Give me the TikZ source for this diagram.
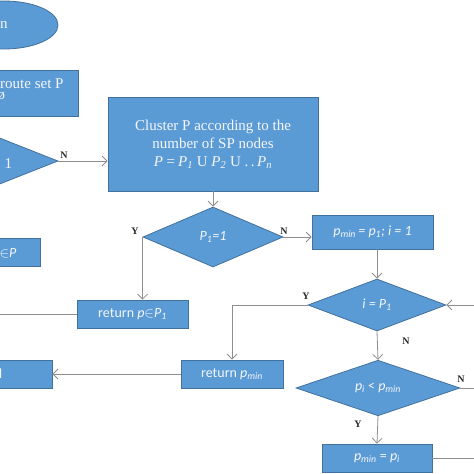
\documentclass[tikz,border=0pt]{standalone}
\usepackage{fontspec}
\setmainfont{Liberation Serif}
\newfontfamily\sansf{Carlito}
\usetikzlibrary{shapes.geometric,arrows.meta}
\definecolor{boxfill}{HTML}{5B9BD5}
\definecolor{boxline}{HTML}{41719C}
\definecolor{lncol}{HTML}{8E8E8E}
\definecolor{txt}{HTML}{F4F6FA}
\tikzset{
 blk/.style={draw=boxline, fill=boxfill, line width=0.8pt, inner sep=0pt, text=txt},
 rbox/.style={blk, rectangle},
 dia/.style={blk, diamond},
 ell/.style={blk, ellipse},
 serift/.style={font=\fontsize{15}{18}\selectfont, text=txt, inner sep=0pt},
 sanst/.style={font=\sansf\fontsize{14}{17}\selectfont, text=txt, inner sep=0pt},
 lbl/.style={font=\bfseries\fontsize{10}{12}\selectfont, text=black!85, inner sep=0pt},
 ln/.style={draw=lncol, line width=0.8pt},
 arr/.style={ln, -{Straight Barb[length=5pt,width=10pt]}},
}
\begin{document}
\begin{tikzpicture}[x=1pt,y=-1pt]
\useasboundingbox (0,0) rectangle (474,474);
% left partial column
\node[ell, serift, minimum width=108pt, minimum height=48pt] (start) at (4,25) {n};
\node[rbox, minimum width=98pt, minimum height=46pt] (init) at (29,93) {};
\node[serift, anchor=base west] (initt) at (0,88) {route set P};
\node[serift, anchor=base] (inite) at (1.5,99.5) {ø};
\node[dia, minimum width=116pt, minimum height=46pt] (d0) at (0,161) {};
\node[serift] (d0t) at (8.5,163.5) {1};
\node[rbox, minimum width=60pt, minimum height=28pt] (lb) at (10,252) {};
\node[sanst] (lbt) at (8,253) {$\in$\textit{P}};
\node[rbox, minimum width=72pt, minimum height=28pt] (eb) at (16,374) {};
\node[sanst, anchor=east] (ebt) at (2.5,374) {d};
% main flow
\node[rbox, serift, align=center, minimum width=210pt, minimum height=94pt] (cl) at (213,144)
 {Cluster P according to the\\ number of SP nodes\\ \textit{P\,=\,P\textsubscript{1}} U \textit{P\textsubscript{2}} U .\,.\,\textit{P\textsubscript{n}}};
\node[dia, sanst, minimum width=140pt, minimum height=60pt] (d1) at (213,237) {\textit{P\textsubscript{1}=1}};
\node[rbox, sanst, minimum width=121pt, minimum height=34pt] (b1) at (372.5,232) {\textit{p\textsubscript{min}\,= p\textsubscript{1}; i = 1}};
\node[dia, sanst, minimum width=138pt, minimum height=52pt] (d2) at (377,305) {\textit{i = P\textsubscript{1}}};
\node[dia, sanst, minimum width=164pt, minimum height=55pt] (d3) at (378,388) {\textit{p\textsubscript{i}} < \textit{p\textsubscript{min}}};
\node[rbox, sanst, minimum width=110pt, minimum height=28pt] (b2) at (377,458) {\textit{p\textsubscript{min}} = \textit{p\textsubscript{i}}};
\node[rbox, sanst, minimum width=111pt, minimum height=28pt] (r1) at (132.5,314) {return \textit{p}$\in$\textit{P\textsubscript{1}}};
\node[rbox, sanst, minimum width=102pt, minimum height=28pt] (r2) at (232,374) {return \textit{p\textsubscript{min}}};
% off-page coordinates
\coordinate (offl1) at (-5,314);
\coordinate (offr1) at (480,305);
\coordinate (offr2) at (480,388);
\coordinate (offr3) at (480,458);
% connectors
\draw[arr] (d0.east) -- (d0.east -| cl.west);
\draw[arr] (cl.south) -- (d1.north);
\draw[arr] (d1.east) -- (d1.east -| b1.west);
\draw[arr] (d1.west) -- (d1.west |- r1.north);
\draw[ln] (r1.west) -- (offl1);
\draw[arr] (d2.north |- b1.south) -- (d2.north);
\draw[arr] (d2.west) -| (r2.north);
\draw[arr] (offr1) -- (d2.east);
\draw[arr] (d2.south) -- (d3.north);
\draw[ln] (d3.east) -- (offr2);
\draw[arr] (d3.south) -- (b2.north);
\draw[ln] (b2.east) -- (offr3);
\draw[arr] (r2.west) -- (eb.east);
% labels
\node[lbl] (l1) at (64,155) {N};
\node[lbl] (l2) at (135,231) {Y};
\node[lbl] (l3) at (284,231) {N};
\node[lbl] (l4) at (306,296) {Y};
\node[lbl] (l5) at (406,341) {N};
\node[lbl] (l6) at (461,379) {N};
\node[lbl] (l7) at (358,424) {Y};
\end{tikzpicture}
\end{document}
